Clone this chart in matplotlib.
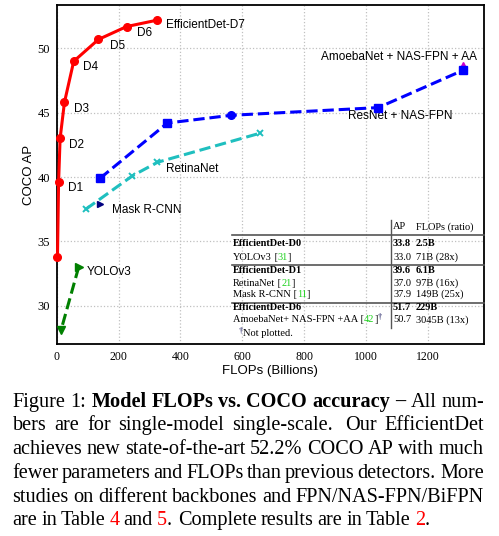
import re
import matplotlib
matplotlib.use('Agg')
import matplotlib.pyplot as plt
from matplotlib.lines import Line2D

serif = 'Liberation Serif'
sans = 'Liberation Sans'
plt.rcParams['font.family'] = [serif, 'DejaVu Serif']

# EfficientDet D0 .. D7
effdet_flops = [2.5, 6.1, 11, 25, 55, 135, 226, 325]
effdet_ap = [33.8, 39.6, 43.0, 45.8, 49.0, 50.7, 51.7, 52.2]

# ResNet + NAS-FPN, last point is AmoebaNet + NAS-FPN + AA
nasfpn_flops = [140, 358, 563, 1040, 1314]
nasfpn_ap = [39.9, 44.2, 44.8, 45.4, 48.3]
nasfpn_markers = ['s', 's', 'o', 's', 's']

retina_flops = [94, 245, 326, 656]
retina_ap = [37.5, 40.1, 41.15, 43.4]

maskrcnn_flops = [140]
maskrcnn_ap = [37.9]

yolo_flops = [71, 14]
yolo_ap = [33.0, 28.1]

# inset table
table_names = ['EfficientDet-D0', 'YOLOv3', 'EfficientDet-D1', 'RetinaNet',
               'Mask R-CNN', 'EfficientDet-D6', 'AmoebaNet+ NAS-FPN +AA']
table_refs = [None, '31', None, '21', '11', None, '42']
table_ap = ['33.8', '33.0', '39.6', '37.0', '37.9', '51.7', '50.7']
table_flops = ['2.5B', '71B (28x)', '6.1B', '97B (16x)', '149B (25x)', '229B', '3045B (13x)']
table_bold = [True, False, True, False, False, True, False]

caption_lines = [
    "Figure 1: *Model *FLOPs *vs. *COCO *accuracy *\u2013 All num-",
    "bers are for single-model single-scale. Our EfficientDet",
    "achieves new state-of-the-art 52.2% COCO AP with much",
    "fewer parameters and FLOPs than previous detectors. More",
    "studies on different backbones and FPN/NAS-FPN/BiFPN",
    "are in Table {4} and {5}. Complete results are in Table {2}.",
]

W, H = 499, 536
fig = plt.figure(figsize=(W / 100, H / 100), dpi=100)
ax = fig.add_axes([56.7 / W, 1 - 344.3 / H, (484 - 56.7) / W, (344.3 - 4.7) / H])

# curves
ax.plot(effdet_flops, effdet_ap, '-o', color='red', lw=2.2, ms=5.5, clip_on=False, zorder=5)
ax.plot(nasfpn_flops, nasfpn_ap, '--', color='blue', lw=2.2, zorder=4)
ax.plot([nasfpn_flops[-1]], [nasfpn_ap[-1] + 0.3], '^', color='#cc00cc', ms=6, zorder=4)
for fx_, fy_, m in zip(nasfpn_flops, nasfpn_ap, nasfpn_markers):
    ax.plot(fx_, fy_, m, color='blue', ms=5.5, zorder=5)
ax.plot(retina_flops, retina_ap, '--x', color='#1fbfbf', lw=2.2, ms=5, mew=1.4, zorder=4)
ax.plot(maskrcnn_flops, maskrcnn_ap, '>', color='#000080', ms=5, zorder=5)
ax.plot(yolo_flops, yolo_ap, '--', color='green', lw=2.2, zorder=4)
ax.plot(yolo_flops[:1], yolo_ap[:1], '>', color='green', ms=6, zorder=5)
ax.plot(yolo_flops[1:], yolo_ap[1:], 'v', color='green', ms=6, zorder=5)

lab = dict(family=sans, fontsize=8.5, va='center', ha='left')
ax.text(37, 39.15, 'D1', **lab)
ax.text(40, 42.5, 'D2', **lab)
ax.text(56, 45.3, 'D3', **lab)
ax.text(85, 48.55, 'D4', **lab)
ax.text(172, 50.2, 'D5', **lab)
ax.text(260, 51.2, 'D6', **lab)
ax.text(353, 51.8, 'EfficientDet-D7', **lab)
ax.text(353, 40.6, 'RetinaNet', **lab)
ax.text(179, 37.45, 'Mask R-CNN', **lab)
ax.text(98, 32.6, 'YOLOv3', **lab)
ax.text(941, 44.75, 'ResNet + NAS-FPN', **lab)
ax.text(855, 49.3, 'AmoebaNet + NAS-FPN + AA', **lab)

ax.set_xlim(0, 1382)
ax.set_ylim(27, 53.4)
ax.set_xticks(range(0, 1201, 200))
ax.set_yticks([30, 35, 40, 45, 50])
ax.tick_params(length=0, labelsize=8.5, pad=5)
ax.tick_params(axis='y', labelsize=9)
ax.grid(True, linestyle=':', color='#c0c0c0', lw=0.9)
for s in ax.spines.values():
    s.set_linewidth(1.3)
ax.set_xlabel('FLOPs (Billions)', family=sans, fontsize=9.5)
ax.set_ylabel('COCO AP', family=sans, fontsize=9.5)
ax.xaxis.set_label_coords(0.5, -0.06)
ax.yaxis.set_label_coords(-0.05, 0.5)

r = fig.canvas.get_renderer()


def fx(px):
    return px / W


def fy(py):
    return 1 - py / H


def ink_w(s, **kw):
    t = fig.text(0, 0, s, **kw)
    w = t.get_window_extent(r).width
    t.remove()
    return w


def adv(s, **kw):
    return ink_w('n' + s + 'n', **kw) - ink_w('nn', **kw)


def put(x, y, pieces, size, va='center'):
    # pieces: (text, color, weight, raise_px, size_scale)
    for txt, col, wt, up, sc in pieces:
        kw = dict(family=serif, size=size * sc, weight=wt)
        fig.text(fx(x), fy(y - up), txt, color=col, va=va, ha='left', **kw)
        x += adv(txt, **kw)


# table
tfs = 7.5
cite = '#1ed21e'
row_y = [244, 257, 270.5, 283, 294.5, 307.5, 320]
fig.text(fx(393), fy(226.7), 'AP', family=serif, size=tfs, va='center')
fig.text(fx(416), fy(226.7), 'FLOPs (ratio)', family=serif, size=tfs, va='center')
for name, ref, ap, fl, bold, y in zip(table_names, table_refs, table_ap, table_flops, table_bold, row_y):
    wt = 'bold' if bold else 'normal'
    pcs = [(name, 'black', wt, 0, 1)]
    if ref:
        pcs += [(' [', 'black', wt, 0, 1), (ref, cite, wt, 0, 1), (']', 'black', wt, 0, 1)]
    if name.startswith('Amoeba'):
        pcs.append(('\u2020', '#000050', 'normal', 3, 0.8))
    put(233, y, pcs, tfs)
    fig.text(fx(393), fy(y), ap, family=serif, size=tfs, weight=wt, va='center')
    fig.text(fx(416), fy(y), fl, family=serif, size=tfs, weight=wt, va='center')
put(239, 334, [('\u2020', '#000050', 'normal', 3, 0.8), ('Not plotted.', 'black', 'normal', 0, 1)], tfs)
for ry in [234.5, 264.5, 302.5]:
    fig.add_artist(Line2D([fx(232), fx(484)], [fy(ry), fy(ry)], color='#555555', lw=1.2,
                          transform=fig.transFigure))
fig.add_artist(Line2D([fx(390.5), fx(390.5)], [fy(220), fy(327.5)], color='#555555', lw=1.0,
                      transform=fig.transFigure))

# caption, justified word by word
cap_fs = 14.6
left, right = 12.5, 484


def parse_word(word):
    wt = 'normal'
    if word.startswith('*'):
        wt = 'bold'
        word = word[1:]
    out = []
    for part in re.split(r'(\{[^}]*\})', word):
        if not part:
            continue
        if part.startswith('{'):
            out.append((part[1:-1], 'red', wt, 0, 1))
        else:
            out.append((part, 'black', wt, 0, 1))
    return out


for i, line in enumerate(caption_lines):
    words = [parse_word(w) for w in line.split(' ')]
    widths = [sum(adv(p[0], family=serif, size=cap_fs, weight=p[2]) for p in pcs) for pcs in words]
    line_right = right if i < len(caption_lines) - 1 else 430
    weights = []
    for pcs in words[:-1]:
        last = pcs[-1][0]
        weights.append(1.5 if last.endswith('.') and last != 'vs.' else 1.0)
    gap = (line_right - left - sum(widths)) / sum(weights)
    x = left
    y = 406.7 + i * 23.7
    for k, pcs in enumerate(words):
        put(x, y, pcs, cap_fs, va='baseline')
        if k < len(weights):
            x += widths[k] + gap * weights[k]

fig.savefig('out.png', dpi=100)
